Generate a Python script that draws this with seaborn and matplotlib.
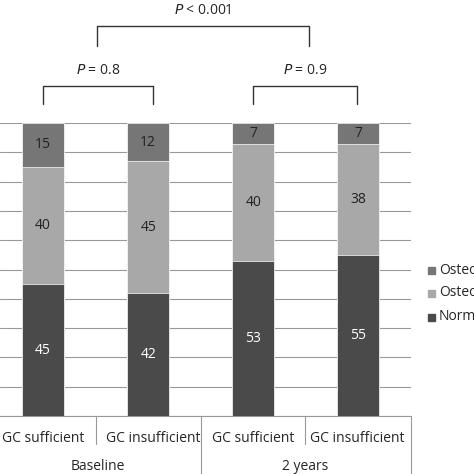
import matplotlib
matplotlib.use("Agg")
import matplotlib.pyplot as plt
import seaborn as sns
import pandas as pd
import numpy as np

groups = ["GC sufficient", "GC insufficient", "GC sufficient", "GC insufficient"]
periods = ["Baseline", "2 years"]
normal = [45, 42, 53, 55]
osteopenia = [40, 45, 40, 38]
osteoporosis = [15, 12, 7, 7]
legend_labels = ["Osteoporosis", "Osteopenia", "Normal"]
colors = ["#767676", "#a8a8a8", "#4a4a4a"]

sns.set_style("white")
plt.rcParams['font.family'] = ['Open Sans', 'DejaVu Sans']

fig = plt.figure(figsize=(4.74, 4.74), dpi=100)
ax = fig.add_axes([0, 1 - 416/474, 411/474, (416-123)/474])

x = np.arange(4)
c1 = np.array(normal)
c2 = c1 + np.array(osteopenia)
c3 = c2 + np.array(osteoporosis)
c3 = np.maximum(c3, 100)
for vals, col in zip([c3, c2, c1], colors):
    df = pd.DataFrame({"x": x, "y": vals})
    sns.barplot(data=df, x="x", y="y", color=col, width=0.4, ax=ax, saturation=1,
                zorder=3, edgecolor='white', linewidth=0.5)

fs = 10
for i in range(4):
    ax.text(i, normal[i]/2, str(normal[i]), ha='center', va='center', fontsize=fs, color='white', zorder=4)
    ax.text(i, c1[i] + osteopenia[i]/2, str(osteopenia[i]), ha='center', va='center', fontsize=fs, color='#222', zorder=4)
    ax.text(i, c2[i] + (100 - c2[i])/2, str(osteoporosis[i]), ha='center', va='center', fontsize=fs, color='#222', zorder=4)

ax.set_xlim(-0.41, 3.5)
ax.set_ylim(0, 100)
ax.set_yticks(np.arange(0, 101, 10))
ax.yaxis.grid(True, color='#999999', lw=0.8, zorder=0)
ax.set_axisbelow(True)
ax.set_xticks([]); ax.set_yticklabels([]); ax.set_xlabel(''); ax.set_ylabel('')
ax.tick_params(left=False, bottom=False)
for s in ['top', 'right', 'left']:
    ax.spines[s].set_visible(False)
ax.spines['bottom'].set_color('#999999')

def px(xp, yp):
    return xp/474, 1 - yp/474

for xc, lab in zip([43, 153, 253, 357], groups):
    fig.text(*px(xc, 438), lab, ha='center', va='center', fontsize=fs)
for xc, lab in zip([98, 305], periods):
    fig.text(*px(xc, 466), lab, ha='center', va='center', fontsize=fs)
lines = [((96, 416), (96, 444)), ((201, 416), (201, 474)), ((305, 416), (305, 444)), ((411, 416), (411, 474))]
for (a, b) in lines:
    fig.add_artist(plt.Line2D([a[0]/474, b[0]/474], [1-a[1]/474, 1-b[1]/474], color='#999999', lw=0.8))

def bracket(x0, x1, ytop, ybot, label, ytxt):
    xs = [x0/474, x0/474, x1/474, x1/474]
    ys = [1-ybot/474, 1-ytop/474, 1-ytop/474, 1-ybot/474]
    fig.add_artist(plt.Line2D(xs, ys, color='#333333', lw=1))
    fig.text((x0+x1)/2/474, 1-ytxt/474, label, ha='center', va='center', fontsize=fs)

bracket(43, 153, 86, 104, r"$P$ = 0.8", 70)
bracket(253, 357, 86, 104, r"$P$ = 0.9", 70)
bracket(97, 309, 26, 46, r"$P$ < 0.001", 10)

for yl, lab, col in zip([270, 293, 317], legend_labels, colors):
    fig.patches.append(plt.Rectangle(px(428, yl + 4), 7/474, 7/474, color=col, transform=fig.transFigure))
    fig.text(*px(439, yl), lab, ha='left', va='center', fontsize=fs)

fig.savefig("out.png", dpi=100)
